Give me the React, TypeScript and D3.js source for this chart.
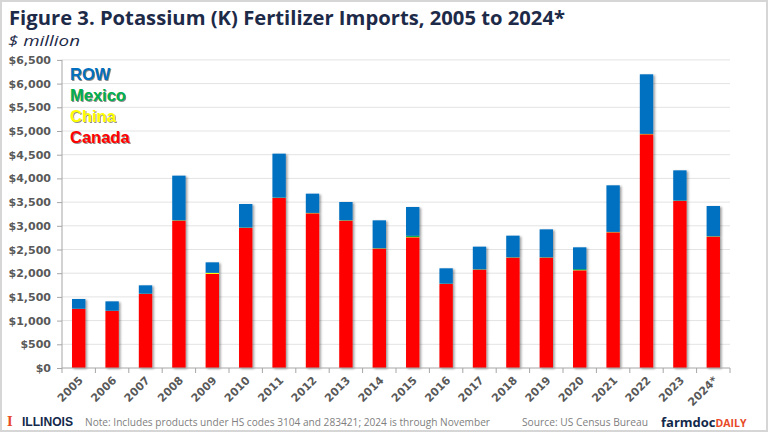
import { useRef, useEffect } from "react";
import { select, scaleLinear, scaleBand, axisLeft, stack } from "d3";

const W = 768;
const H = 432;
const margin = { top: 60, right: 30, bottom: 64, left: 62 };

const years = ["2005", "2006", "2007", "2008", "2009", "2010", "2011", "2012", "2013", "2014",
  "2015", "2016", "2017", "2018", "2019", "2020", "2021", "2022", "2023", "2024*"];
const canada = [1245, 1203, 1561, 3108, 1985, 2954, 3586, 3263, 3108, 2518,
  2757, 1772, 2075, 2328, 2328, 2060, 2862, 4930, 3523, 2771];
const china = [3, 3, 4, 5, 20, 5, 5, 5, 5, 5, 8, 4, 4, 4, 4, 5, 5, 5, 5, 5];
const mexico = [2, 2, 3, 5, 5, 5, 5, 5, 5, 5, 25, 4, 4, 4, 4, 20, 5, 5, 5, 5];
const row = [206, 198, 176, 940, 219, 496, 926, 405, 384, 587,
  607, 323, 477, 456, 589, 461, 982, 1256, 637, 637];

const seriesKeys = ["Canada", "China", "Mexico", "ROW"];
const seriesColors: Record<string, string> = {
  Canada: "#ff0000", China: "#ffff00", Mexico: "#00b050", ROW: "#0070c0",
};
const legendOrder = ["ROW", "Mexico", "China", "Canada"];
const yTicks = [0, 500, 1000, 1500, 2000, 2500, 3000, 3500, 4000, 4500, 5000, 5500, 6000, 6500];

function App() {
  const svgRef = useRef<SVGSVGElement>(null);

  useEffect(() => {
    const svg = select(svgRef.current);
    const plotW = W - margin.left - margin.right - 8;
    const x0 = margin.left;
    const x1 = margin.left + plotW;
    const yBase = 368;

    const x = scaleBand().domain(years).range([x0, x1]).paddingInner(0.6).paddingOuter(0.3);
    const y = scaleLinear().domain([0, 6500]).range([yBase, 59.9]);

    const table = years.map((yr, i) => ({
      year: yr, Canada: canada[i], China: china[i], Mexico: mexico[i], ROW: row[i],
    }));
    const layers = stack<any>().keys(seriesKeys)(table);

    // gridlines
    svg.select(".grid")
      .selectAll("line")
      .data(yTicks.slice(1))
      .join("line")
      .attr("x1", x0).attr("x2", x1)
      .attr("y1", d => y(d)).attr("y2", d => y(d))
      .attr("stroke", "#e3e3e3").attr("stroke-width", 1);

    // y-axis
    const yAxis = svg.select<SVGGElement>(".y-axis")
      .attr("transform", `translate(${x0},0)`)
      .call(axisLeft(y).tickValues(yTicks).tickSize(5).tickPadding(6)
        .tickFormat(d => "$" + (+d).toLocaleString("en-US")) as any);
    yAxis.select(".domain").attr("stroke", "#a6a6a6").attr("d", `M0,${y(6500)}V${yBase}`);
    yAxis.selectAll(".tick line").attr("stroke", "#a6a6a6");
    yAxis.selectAll(".tick text")
      .attr("fill", "#595959").style("font-family", "DejaVu Sans").style("font-weight", "bold")
      .style("font-size", "11px");

    // bars
    svg.select(".bars")
      .selectAll("g")
      .data(layers)
      .join("g")
      .attr("fill", d => seriesColors[d.key])
      .selectAll("rect")
      .data(d => d.map((v, i) => ({ v, i })))
      .join("rect")
      .attr("x", d => x(years[d.i])!)
      .attr("width", x.bandwidth())
      .attr("y", d => y(d.v[1]))
      .attr("height", d => y(d.v[0]) - y(d.v[1]));

    // x-axis
    const xa = svg.select(".x-axis");
    xa.selectAll("line.base").data([0]).join("line").attr("class", "base")
      .attr("x1", x0).attr("x2", x1).attr("y1", yBase).attr("y2", yBase)
      .attr("stroke", "#a6a6a6");
    xa.selectAll("line.tk")
      .data(years.map((_, i) => i).concat([years.length]))
      .join("line").attr("class", "tk")
      .attr("x1", i => x0 + i * x.step()).attr("x2", i => x0 + i * x.step())
      .attr("y1", yBase).attr("y2", yBase + 5)
      .attr("stroke", "#a6a6a6");
    xa.selectAll("text")
      .data(years)
      .join("text")
      .attr("transform", d => `translate(${x(d)! + x.bandwidth() / 2 + 5},${yBase + 13}) rotate(-45)`)
      .attr("text-anchor", "end")
      .attr("fill", "#595959")
      .style("font-family", "DejaVu Sans").style("font-weight", "bold").style("font-size", "11px")
      .text(d => d);

    // legend
    const lg = svg.select(".legend");
    lg.selectAll("text.sh")
      .data(legendOrder)
      .join("text").attr("class", "sh")
      .attr("x", 71).attr("y", (_, i) => 81 + i * 21)
      .attr("fill", "#333").attr("opacity", 0.55)
      .style("font-family", "Liberation Sans").style("font-weight", "bold").style("font-size", "16.5px")
      .text(d => d);
    lg.selectAll("text.lb")
      .data(legendOrder)
      .join("text").attr("class", "lb")
      .attr("x", 70).attr("y", (_, i) => 80 + i * 21)
      .attr("fill", d => seriesColors[d])
      .style("font-family", "Liberation Sans").style("font-weight", "bold").style("font-size", "16.5px")
      .text(d => d);
  }, []);

  return (
    <svg ref={svgRef} width={W} height={H}
      style={{ position: "absolute", left: 0, top: 0, background: "#fff", display: "block" }}>
      <defs>
        <filter id="shadow" x="-20%" y="-5%" width="150%" height="115%">
          <feDropShadow dx="1.6" dy="1" stdDeviation="0.8" floodColor="#000" floodOpacity="0.4" />
        </filter>
      </defs>
      <rect x={1} y={1} width={W - 2} height={H - 2} fill="#fff" stroke="#d6d6d6" strokeWidth={2} />
      <text x={9} y={25} fill="#1d2a48" fontFamily="Open Sans" fontWeight="bold" fontSize={19}
        textLength={556} lengthAdjust="spacingAndGlyphs">
        Figure 3. Potassium (K) Fertilizer Imports, 2005 to 2024*
      </text>
      <text x={8} y={46} fill="#1d2a48" fontFamily="Open Sans" fontStyle="italic" fontSize={15}
        textLength={72} lengthAdjust="spacingAndGlyphs">
        $ million
      </text>
      <g className="grid" />
      <g className="bars" filter="url(#shadow)" />
      <g className="y-axis" />
      <g className="x-axis" />
      <g className="legend" />
      {/* footer */}
      <text x={7} y={426} fill="#e84a27" fontFamily="DejaVu Serif" fontWeight="bold" fontSize={12}>I</text>
      <text x={22} y={426} fill="#13294b" fontFamily="Liberation Sans" fontWeight="bold" fontSize={12}
        textLength={51} lengthAdjust="spacingAndGlyphs">ILLINOIS</text>
      <text x={85} y={425.5} fill="#808080" fontFamily="Open Sans" fontSize={11}
        textLength={405} lengthAdjust="spacingAndGlyphs">
        Note: Includes products under HS codes 3104 and 283421; 2024 is through November
      </text>
      <text x={522} y={425.5} fill="#808080" fontFamily="Open Sans" fontSize={11}
        textLength={126} lengthAdjust="spacingAndGlyphs">
        Source: US Census Bureau
      </text>
      <text x={661} y={427} fontFamily="Open Sans" fontWeight="bold">
        <tspan fill="#13294b" fontSize={13}>farmdoc</tspan>
        <tspan fill="#e84a27" fontSize={10.5}>DAILY</tspan>
      </text>
    </svg>
  );
}

export default App;
